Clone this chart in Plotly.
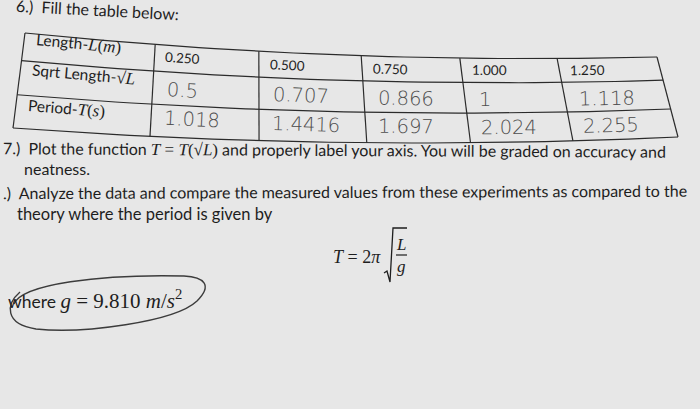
import math

import numpy as np
import plotly.graph_objects as go

# table contents
row_labels = [
    "Length-<span style='font-family:Liberation Serif;font-size:17px'><i>L</i>(<i>m</i>)</span>",
    "Sqrt Length-<span style='font-family:Liberation Serif;font-size:17px'>√<i>L</i></span>",
    "Period-<span style='font-family:Liberation Serif;font-size:17px'><i>T</i>(<i>s</i>)</span>",
]
lengths = [0.250, 0.500, 0.750, 1.000, 1.250]
sqrt_lengths = [0.5, 0.707, 0.866, 1, 1.118]  # handwritten
periods = [1.018, 1.4416, 1.697, 2.024, 2.255]  # handwritten

question_6 = "6.)  Fill the table below:"
question_7 = (
    "7.)  Plot the function <span style='font-family:Liberation Serif;font-size:17px'>"
    "<i>T</i> = <i>T</i>(√<i>L</i>)</span> and properly label your axis. "
    "You will be graded on accuracy and"
)
question_7b = "neatness."
question_8 = (
    ".)  Analyze the data and compare the measured values from these "
    "experiments as compared to the"
)
question_8b = "theory where the period is given by"
g_note = ("where <span style='font-family:Liberation Serif;font-size:21px'><i>g</i> = 9.810 "
          "<i>m</i>/<i>s</i><sup>2</sup></span>")

PRINT_FONT = "Lato"
SERIF = "Liberation Serif"
HAND = "DejaVu Sans"
DARK = "#1e1e1e"
INK = "#4e4e4e"
PAPER = "#e7e7e7"

# the photographed table is a bit skewed and the page bows in the middle
TL, TR, BL, BR = (25, 33), (657, 57), (13, 128), (678, 137)
SAG = 10
col_edges = [0, 0.206, 0.37, 0.532, 0.688, 0.842, 1]
row_edges = [0, 0.29, 0.65, 1]


def warp(u, v):
    xt = TL[0] + u * (TR[0] - TL[0])
    yt = TL[1] + u * (TR[1] - TL[1])
    xb = BL[0] + u * (BR[0] - BL[0])
    yb = BL[1] + u * (BR[1] - BL[1])
    x = xt + v * (xb - xt)
    y = yt + v * (yb - yt) + SAG * 4 * u * (1 - u)
    return x, y


def tilt(u, v):
    x0, y0 = warp(u - 0.01, v)
    x1, y1 = warp(u + 0.01, v)
    return math.degrees(math.atan2(y1 - y0, x1 - x0))


fig = go.Figure()

# grid lines of the table
gx, gy = [], []
for v in row_edges:
    for u in np.linspace(0, 1, 41):
        x, y = warp(u, v)
        gx.append(x)
        gy.append(y)
    gx.append(None)
    gy.append(None)
for u in col_edges:
    for v in (0, 1):
        x, y = warp(u, v)
        gx.append(x)
        gy.append(y)
    gx.append(None)
    gy.append(None)
fig.add_trace(
    go.Scatter(
        x=gx, y=gy, mode="lines", line=dict(color="#2b2b2b", width=1.2),
        hoverinfo="skip", showlegend=False,
    )
)


def put_text(text, x, y, size, color=DARK, family=PRINT_FONT, anchor="left",
             angle=0, weight="normal"):
    fig.add_annotation(
        x=x, y=y, text=text, showarrow=False, xanchor=anchor, yanchor="middle",
        textangle=angle, font=dict(family=family, size=size, color=color, weight=weight),
    )


def cell_text(text, u, v, size, color, family, anchor="left", weight="normal"):
    x, y = warp(u, v)
    put_text(text, x, y, size, color, family, anchor, tilt(u, v), weight)


# row labels
for r, label in enumerate(row_labels):
    v = (row_edges[r] + row_edges[r + 1]) / 2 - 0.04
    cell_text(label, 0.014, v, 15.5, DARK, PRINT_FONT)

# printed lengths and handwritten answers
for c in range(len(lengths)):
    left = col_edges[c + 1]
    cell_text(f"{lengths[c]:.3f}", left + 0.013, 0.145, 13.5, DARK, PRINT_FONT)
    cell_text(str(sqrt_lengths[c]), left + 0.018, 0.49, 19.5, INK, HAND, weight=300)
    cell_text(str(periods[c]), left + 0.016, 0.815, 19.5, INK, HAND, weight=300)

# question text around the table
put_text(question_6, 14, 9, 16, angle=3)
put_text(question_7, 0.5, 150, 16, angle=0.3)
put_text(question_7b, 22, 168, 16)
put_text(question_8, 0.5, 191, 16, angle=-0.2)
put_text(question_8b, 15, 214, 16.5)

# formula T = 2*pi*sqrt(L/g)
put_text("<i>T</i> = 2<i>π</i>", 383, 257, 18, family=SERIF, anchor="right")
put_text("<i>L</i>", 401, 244, 17, family=SERIF, anchor="center")
put_text("<i>g</i>", 401, 266, 17, family=SERIF, anchor="center")
fig.add_shape(type="path", path="M 384,273 L 387,271 L 390,282 L 393,228 L 407,228",
              line=dict(color=DARK, width=1.3))
fig.add_shape(type="line", x0=396, x1=407, y0=255, y1=255,
              line=dict(color=DARK, width=1.2))

# g note with the pen loop around it
put_text(g_note, 6, 299, 17.5)
fig.add_shape(
    type="path",
    path="M 14,304 C 22,284 100,274 184,276 C 204,277 213,285 197,301 "
         "C 175,322 82,334 36,329 C 4,324 6,304 20,292",
    line=dict(color="#3c3c3c", width=1.4),
)

fig.update_xaxes(range=[0, 700], visible=False, fixedrange=True)
fig.update_yaxes(range=[409, 0], visible=False, fixedrange=True)
fig.update_layout(
    width=700, height=409, margin=dict(l=0, r=0, t=0, b=0),
    paper_bgcolor=PAPER, plot_bgcolor=PAPER,
)

fig.write_html(
    "out.html",
    config={"displayModeBar": False},
    post_script="document.body.style.margin='0';",
)
